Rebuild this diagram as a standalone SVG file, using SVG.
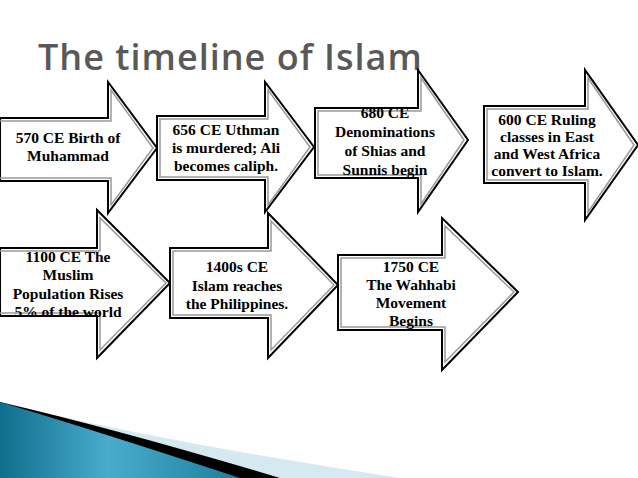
<svg xmlns="http://www.w3.org/2000/svg" width="638" height="478" viewBox="0 0 638 478">
<defs>
<style>
.a{fill:#fff;stroke:#000;stroke-width:2;stroke-linejoin:miter}
.b{fill:none;stroke:#999;stroke-width:1.5}
.t{font-family:"Liberation Serif",serif;font-weight:bold;font-size:15.5px;fill:#000;text-anchor:middle}
</style>
<linearGradient id="g" x1="0" y1="0" x2="1" y2="0">
<stop offset="0" stop-color="#0d6f8c"/><stop offset="0.45" stop-color="#4aaccb"/><stop offset="1" stop-color="#1a7f9e"/>
</linearGradient>
</defs>
<rect width="638" height="478" fill="#fff"/>
<path d="M0,402 Q150,440 400,478 L0,478 Z" fill="#d5e9f1"/>
<path d="M0,402 Q120,430 280,478 L0,478 Z" fill="#000"/>
<path d="M0,402 Q100,432 240,478 L0,478 Z" fill="url(#g)"/>
<text x="38" y="70" font-family="'Open Sans',sans-serif" font-size="36" font-weight="600" fill="#595959" letter-spacing="1">The timeline of Islam</text>
<g id="connectors"/>
<g id="n1"><path class="a" d="M0,118 H108 V82 L157,148 L108,213 V181 H0 Z"/><path class="b" d="M0,121 H111 V90 L153,148 L111,205 V178 H0"/>
<text class="t" x="68" y="143">570 CE Birth of</text><text class="t" x="68" y="161">Muhammad</text></g>
<g id="n2"><path class="a" d="M157,116 H265 V82 L314,147 L265,212 V180 H157 Z"/><path class="b" d="M160,119 V177 H268 V205 L310,147 L268,90 V119 Z"/>
<text class="t" x="226" y="135">656 CE Uthman</text><text class="t" x="226" y="153">is murdered; Ali</text><text class="t" x="226" y="171">becomes caliph.</text></g>
<g id="n3"><path class="a" d="M315,108 H418 V70 L468,140 L418,212 V178 H315 Z"/><path class="b" d="M318,111 V175 H421 V204 L464,140 L421,78 V111 Z"/>
<text class="t" x="385" y="118">680 CE</text><text class="t" x="385" y="137">Denominations</text><text class="t" x="385" y="156">of Shias and</text><text class="t" x="385" y="175">Sunnis begin</text></g>
<g id="n4"><path class="a" d="M484,106 H585 V70 L638,145 L585,220 V183 H484 Z"/><path class="b" d="M487,109 V180 H588 V212 L634,145 L588,78 V109 Z"/>
<text class="t" x="547" y="125">600 CE Ruling</text><text class="t" x="547" y="142">classes in East</text><text class="t" x="547" y="159">and West Africa</text><text class="t" x="547" y="176">convert to Islam.</text></g>
<g id="n5"><path class="a" d="M0,248 H97 V210 L170,283 L97,358 V316 H0 Z"/><path class="b" d="M0,251 H100 V218 L166,283 L100,350 V313 H0"/>
<text class="t" x="68" y="262">1100 CE The</text><text class="t" x="68" y="280">Muslim</text><text class="t" x="68" y="299">Population Rises</text><text class="t" x="68" y="317">5% of the world</text></g>
<g id="n6"><path class="a" d="M170,248 H268 V213 L338,285 L268,358 V318 H170 Z"/><path class="b" d="M173,251 V315 H271 V350 L334,285 L271,221 V251 Z"/>
<text class="t" x="237" y="272">1400s CE</text><text class="t" x="237" y="291">Islam reaches</text><text class="t" x="237" y="309">the Philippines.</text></g>
<g id="n7"><path class="a" d="M338,255 H442 V218 L518,292 L442,370 V330 H338 Z"/><path class="b" d="M341,258 V327 H445 V362 L514,292 L445,226 V258 Z"/>
<text class="t" x="411" y="272">1750 CE</text><text class="t" x="411" y="290">The Wahhabi</text><text class="t" x="411" y="308">Movement</text><text class="t" x="411" y="326">Begins</text></g>
</svg>
